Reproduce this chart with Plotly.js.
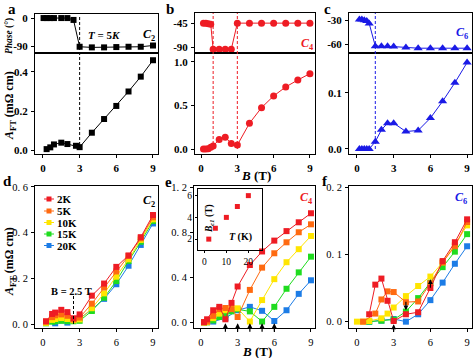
<!DOCTYPE html>
<html><head><meta charset="utf-8">
<script src="https://cdn.plot.ly/plotly-3.0.1.min.js"></script>
<style>html,body{margin:0;padding:0;background:#fff}#chart{width:474px;height:358px}</style>
</head><body><div id="chart"></div>
<script>
// ---------- data ----------
// panel a (C2, T = 5K)
const aPhaseB = [0.05,0.3,0.6,0.9,1.5,2,2.5,3,4,5,6,7,8,9];
const aPhase  = [0,0,0,0,0,0,-6,-92,-94,-94,-93,-92,-92,-88];
const aAmpB   = [0.3,0.6,0.9,1.5,2,2.7,3,4,5,6,7,8,9];
const aAmp    = [0.005,0.014,0.029,0.038,0.031,0.022,0.015,0.089,0.159,0.226,0.30,0.376,0.46];
// panel b (C4)
const bB     = [0.2,0.4,0.6,0.8,1,1.5,2,2.5,3,4,5,6,7,8,9];
const bPhase = [-45,-45,-46,-47,-94,-94,-94,-94,-45,-45,-45,-45,-45,-45,-45];
const bAmp   = [0,0,0.004,0.02,0.035,0.11,0.134,0.065,0.046,0.295,0.475,0.61,0.713,0.793,0.866];
// panel c (C6)
const cB     = [0.2,0.4,0.6,0.8,1,1.5,2,2.5,3,4,5,6,7,8,9];
const cPhase = [-29,-29,-30,-31,-34,-62.5,-62.5,-62.5,-63,-64,-65,-65,-65,-65,-65];
const cAmp   = [0,0,0,0,0,0.013,0.034,0.046,0.046,0.031,0.033,0.055,0.085,0.118,0.154];
// temperatures
const temps = ['2K','5K','10K','15K','20K'];
// panel d (C2)
const dB   = [0.25,0.75,1,1.5,2,2.5,3,4,5,6,7,8,9];
const dB20 = [1,2,3,4,5,6,7,8,9];
const d2K  = [0.012,0.044,0.05,0.062,0.052,0.025,0.042,0.124,0.177,0.25,0.30,0.38,0.477];
const d5K  = [0.01,0.03,0.038,0.042,0.036,0.02,0.028,0.089,0.16,0.23,0.298,0.375,0.467];
const d10K = [0.005,0.018,0.022,0.026,0.022,0.016,0.02,0.069,0.134,0.207,0.283,0.368,0.458];
const d15K = [0.003,0.01,0.012,0.014,0.012,0.012,0.014,0.057,0.115,0.188,0.276,0.36,0.451];
const d20K = [0.003,0.006,0.025,0.063,0.11,0.174,0.255,0.346,0.44];
// panel e (C4)
const eB   = [0.25,0.5,1,1.5,2,2.5,3,4,5,6,7,8,9];
const eB20 = [1,2,3,4,5,6,7,8,9];
const e2K  = [0.005,0.03,0.11,0.14,0.03,0.175,0.32,0.51,0.63,0.726,0.81,0.888,0.968];
const e5K  = [0.003,0.01,0.06,0.12,0.13,0.12,0.05,0.29,0.487,0.614,0.711,0.8,0.87];
const e10K = [0.002,0.005,0.04,0.08,0.11,0.13,0.127,0.01,0.2,0.385,0.535,0.65,0.767];
const e15K = [0.002,0.003,0.02,0.05,0.07,0.1,0.118,0.1,0.01,0.14,0.3,0.445,0.584];
const e20K = [0.01,0.04,0.11,0.14,0.105,0.015,0.11,0.255,0.375];
const arrowE = [2,3,4,5,6];
// inset of e
const insetT   = [2,5,10,15,20];
const insetBc1 = [2,3,4,5,6];
// panel f (C6)
const fB2  = [1,1.5,2,2.5,3,4,5,6,7,8,9];
const f2K  = [0.011,0.055,0.064,0.031,0.001,0.011,0.014,0.05,0.09,0.118,0.152];
const fB5  = [0.5,1.5,2,2.5,3,4,5,6,7,8,9];
const f5K  = [0,0.012,0.033,0.045,0.044,0.029,0.03,0.057,0.088,0.112,0.148];
const fB10 = [0,0.5,1,2,2.5,3,4,5,6,7,8,9];
const f10K = [0,0,0.001,0.005,0.012,0.021,0.038,0.053,0.067,0.088,0.114,0.143];
const fB15 = [1,2,3,4,5,6,7,8,9];
const f15K = [0,0.0015,0.003,0.015,0.035,0.058,0.081,0.104,0.13];
const fB20 = [1,2,3,4,5,6,7,8,9];
const f20K = [0,0.0015,0.004,0,0.011,0.032,0.058,0.086,0.112];
// tick labels
const bTicks = [0,3,6,9];
const bTickText = ['0','3','6','9'];
const dTickVals = [0,0.2,0.4,0.6], dTickText = ['0. 0','0. 2','0. 4','0. 6'];
const eTickVals = [0,0.4,0.8,1.2], eTickText = ['0. 0','0. 4','0. 8','1. 2'];
const fTickVals = [0,0.1,0.2],     fTickText = ['0. 0','0. 1','0. 2'];

// ---------- styling ----------
const W=474,H=358;
const SERIF='Liberation Serif, Times New Roman, serif';
const cols = ['#ee1c24','#ff6a10','#ffe500','#1fdc1f','#1c7ce6'];
const RED='#ee1c24', BLUE='#1a1ae6';
const xd=(l,r)=>[l/W,r/W];
const yd=(t,b)=>[1-b/H,1-t/H];
const px=x=>x/W, py=y=>1-y/H;
const boldTick={family:SERIF,size:11,color:'#000',weight:'bold'};
const regTick={family:SERIF,size:10.5,color:'#000'};
function ax(extra){return Object.assign({showline:true,linecolor:'#000',linewidth:1,mirror:true,ticks:'outside',ticklen:3,tickwidth:1,tickcolor:'#000',zeroline:false,showgrid:false,fixedrange:true,tickfont:boldTick,ticklabelstandoff:1},extra);}

function tr(x,y,xa,ya,color,sym,size){
  return {x:x,y:y,xaxis:xa,yaxis:ya,type:'scatter',mode:'lines+markers',showlegend:false,
    line:{color:color,width:1},marker:{color:color,symbol:sym,size:size,line:{width:0}},cliponaxis:false};
}
const traces=[
  tr(aPhaseB,aPhase,'x','y','#000','square',6),
  tr(aAmpB,aAmp,'x2','y2','#000','square',6),
  tr(bB,bPhase,'x3','y3',RED,'circle',7),
  tr(bB,bAmp,'x4','y4',RED,'circle',7),
  tr(cB,cPhase,'x5','y5',BLUE,'triangle-up',8),
  tr(cB,cAmp,'x6','y6',BLUE,'triangle-up',8),
];
const dSeries=[[dB,d2K],[dB,d5K],[dB,d10K],[dB,d15K],[dB20,d20K]];
const eSeries=[[eB,e2K],[eB,e5K],[eB,e10K],[eB,e15K],[eB20,e20K]];
const fSeries=[[fB2,f2K],[fB5,f5K],[fB10,f10K],[fB15,f15K],[fB20,f20K]];
// draw in reverse so red is on top
for(let i=4;i>=0;i--){
  const t1=tr(dSeries[i][0],dSeries[i][1],'x7','y7',cols[i],'square',6); t1.name=temps[i]; traces.push(t1);
  const t2=tr(eSeries[i][0],eSeries[i][1],'x8','y8',cols[i],'square',6); t2.name=temps[i]; traces.push(t2);
  const t3=tr(fSeries[i][0],fSeries[i][1],'x9','y9',cols[i],'square',6); t3.name=temps[i]; traces.push(t3);
}
traces.push({x:insetT,y:insetBc1,xaxis:'x10',yaxis:'y10',type:'scatter',mode:'markers',showlegend:false,marker:{color:RED,symbol:'square',size:5}});

const layout={
  width:W,height:H,margin:{l:0,r:0,t:0,b:0},paper_bgcolor:'#fff',plot_bgcolor:'rgba(0,0,0,0)',showlegend:false,
  font:{family:SERIF,color:'#000'},
  // a
  xaxis: ax({domain:xd(35,158),range:[-0.65,9.41],anchor:'y',ticks:'',showticklabels:false}),
  yaxis: ax({domain:yd(14,53),range:[-112,13],anchor:'x',tickvals:[0,-90],ticktext:['0','-90']}),
  xaxis2:ax({domain:xd(35,158),range:[-0.65,9.41],anchor:'y2',tickvals:bTicks,ticktext:bTickText}),
  yaxis2:ax({domain:yd(53,154),range:[-0.02,0.497],anchor:'x2',tickvals:[0,0.2,0.4],ticktext:['0.0','0.2','0.4']}),
  // b
  xaxis3:ax({domain:xd(195,315),range:[-0.5,9.42],anchor:'y3',ticks:'',showticklabels:false}),
  yaxis3:ax({domain:yd(13,53),range:[-101,-26],anchor:'x3',tickvals:[-45,-90],ticktext:['-45','-90']}),
  xaxis4:ax({domain:xd(195,315),range:[-0.5,9.42],anchor:'y4',tickvals:bTicks,ticktext:bTickText}),
  yaxis4:ax({domain:yd(53,154),range:[-0.057,1.103],anchor:'x4',tickvals:[0,0.5,1],ticktext:['0.0','0.5','1.0']}),
  // c
  xaxis5:ax({domain:xd(349,472),range:[-0.65,9.4],anchor:'y5',ticks:'',showticklabels:false}),
  yaxis5:ax({domain:yd(13,53),range:[-71,-21],anchor:'x5',tickvals:[-30,-60],ticktext:['-30','-60']}),
  xaxis6:ax({domain:xd(349,472),range:[-0.65,9.4],anchor:'y6',tickvals:bTicks,ticktext:bTickText}),
  yaxis6:ax({domain:yd(53,154),range:[-0.009,0.171],anchor:'x6',tickvals:[0,0.1],ticktext:['0.0','0.1']}),
  // d
  xaxis7:ax({domain:xd(35,158),range:[-0.65,9.41],anchor:'y7',tickvals:bTicks,ticktext:bTickText,tickfont:regTick}),
  yaxis7:ax({domain:yd(186,328),range:[-0.0175,0.604],anchor:'x7',tickvals:dTickVals,ticktext:dTickText,tickfont:regTick}),
  // e
  xaxis8:ax({domain:xd(194,315),range:[-0.57,9.33],anchor:'y8',tickvals:bTicks,ticktext:bTickText,tickfont:regTick}),
  yaxis8:ax({domain:yd(186,328),range:[-0.047,1.209],anchor:'x8',tickvals:eTickVals,ticktext:eTickText,tickfont:regTick}),
  // f
  xaxis9:ax({domain:xd(349,472),range:[-0.65,9.4],anchor:'y9',tickvals:bTicks,ticktext:bTickText,tickfont:regTick}),
  yaxis9:ax({domain:yd(186,328),range:[-0.0094,0.2015],anchor:'x9',tickvals:fTickVals,ticktext:fTickText,tickfont:regTick}),
  // inset
  xaxis10:ax({domain:xd(198,262),range:[-2.9,26.2],anchor:'y10',tickvals:[0,10,20],ticktext:['0','10','20'],tickfont:{family:SERIF,size:9.5,color:'#000'},ticklen:2}),
  yaxis10:ax({domain:yd(189,250),range:[1.0,6.61],anchor:'x10',tickvals:[2,4,6],ticktext:['2','4','6'],tickfont:{family:SERIF,size:9.5,color:'#000'},ticklen:2}),
  shapes:[],annotations:[]
};

// dashed guide lines
const S=layout.shapes, A=layout.annotations;
const DASH='3px,2px';
S.push({type:'line',xref:'x2',yref:'paper',x0:3,x1:3,y0:py(150),y1:py(15),line:{color:'#000',width:1,dash:DASH}});
S.push({type:'line',xref:'x4',yref:'paper',x0:1,x1:1,y0:py(149),y1:py(13),line:{color:RED,width:1,dash:DASH}});
S.push({type:'line',xref:'x4',yref:'paper',x0:3,x1:3,y0:py(149),y1:py(13),line:{color:RED,width:1,dash:DASH}});
S.push({type:'line',xref:'x6',yref:'paper',x0:1.5,x1:1.5,y0:py(149),y1:py(13),line:{color:BLUE,width:1,dash:DASH}});
S.push({type:'line',xref:'x7',yref:'y7',x0:2.5,x1:2.5,y0:0.0,y1:0.124,line:{color:'#000',width:1,dash:DASH}});
// inset white background
S.push({type:'rect',xref:'paper',yref:'paper',x0:px(198),x1:px(262),y0:py(250),y1:py(189),fillcolor:'#fff',line:{width:0},layer:'below'});

// manual legend in d
const legY=[199,211,222.5,234,245.5];
temps.forEach((t,i)=>{
  S.push({type:'line',xref:'paper',yref:'paper',x0:px(44),x1:px(54),y0:py(legY[i]),y1:py(legY[i]),line:{color:cols[i],width:1}});
  S.push({type:'rect',xref:'paper',yref:'paper',x0:px(46.5),x1:px(51.5),y0:py(legY[i]+2.5),y1:py(legY[i]-2.5),fillcolor:cols[i],line:{width:0}});
  A.push({xref:'paper',yref:'paper',x:px(55),y:py(legY[i]),xanchor:'left',yanchor:'middle',showarrow:false,text:'<b>'+t+'</b>',font:{family:SERIF,size:11,color:'#000'}});
});

function txt(x,y,t,size,color,extra){A.push(Object.assign({xref:'paper',yref:'paper',x:px(x),y:py(y),text:t,showarrow:false,xanchor:'center',yanchor:'middle',font:{family:SERIF,size:size,color:color||'#000'}},extra||{}));}
// panel letters
txt(12,9,'<b>a</b>',15); txt(170,9,'<b>b</b>',15); txt(327,9,'<b>c</b>',15);
txt(7,181,'<b>d</b>',15); txt(168,182,'<b>e</b>',15); txt(325,181,'<b>f</b>',15);
// labels
txt(104,35,'<b><i>T</i> = 5<i>K</i></b>',11);
txt(149,35,'<b><i>C</i><sub>2</sub></b>',12);
txt(307,44,'<b><i>C</i><sub>4</sub></b>',12,RED);
txt(462,33,'<b><i>C</i><sub>6</sub></b>',12,BLUE);
txt(149,201,'<b><i>C</i><sub>2</sub></b>',12);
txt(306,198,'<b><i>C</i><sub>4</sub></b>',12,RED);
txt(461,198,'<b><i>C</i><sub>6</sub></b>',12,BLUE);
txt(71,291,'<b>B = 2.5 T</b>',10.5);
// axis titles
txt(9,36,'<b><i>Phase</i> (°)</b>',9.5,'#000',{textangle:-90});
txt(10,106,'<b><i>A</i><sub>FT</sub> (mΩ cm)</b>',12,'#000',{textangle:-90});
txt(10,262,'<b><i>A</i><sub>FT</sub> (mΩ cm)</b>',12,'#000',{textangle:-90});
txt(256,176,'<b><i>B</i> (T)</b>',13);
txt(257,351,'<b><i>B</i> (T)</b>',13);
txt(209,219,'<b><i>B</i><sub><i>c1</i></sub> (T)</b>',9.5,'#000',{textangle:-90});
txt(240,237,'<b><i>T</i> (K)</b>',10);
// arrows in e
arrowE.forEach(b=>A.push({xref:'x8',yref:'y8',x:b,y:-0.004,text:'',showarrow:true,arrowhead:2,arrowsize:0.8,arrowwidth:1.2,arrowcolor:'#000',ax:0,ay:10}));
// arrows in f
A.push({xref:'x9',yref:'y9',x:3,y:-0.004,text:'',showarrow:true,arrowhead:2,arrowsize:0.8,arrowwidth:1.2,arrowcolor:'#000',ax:0,ay:9});
A.push({xref:'x9',yref:'y9',x:4,y:0.017,text:'',showarrow:true,arrowhead:2,arrowsize:0.8,arrowwidth:1.2,arrowcolor:'#000',ax:0,ay:-10});
A.push({xref:'x9',yref:'y9',x:6,y:0.063,text:'',showarrow:true,arrowhead:2,arrowsize:0.8,arrowwidth:1.2,arrowcolor:'#000',ax:0,ay:10});

Plotly.newPlot('chart',traces,layout,{staticPlot:true,displayModeBar:false});
</script></body></html>
